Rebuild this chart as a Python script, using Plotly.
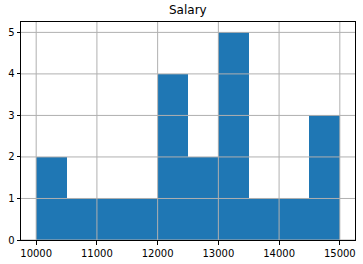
import plotly.graph_objects as go

bin_edges = [10000, 10500, 11000, 11500, 12000, 12500, 13000, 13500, 14000, 14500, 15000]
counts = [2, 1, 1, 1, 4, 2, 5, 1, 1, 3]
x_ticks = [10000, 11000, 12000, 13000, 14000, 15000]
y_ticks = [0, 1, 2, 3, 4, 5]
title = "Salary"

centers = [(a + b) / 2 for a, b in zip(bin_edges[:-1], bin_edges[1:])]
widths = [b - a for a, b in zip(bin_edges[:-1], bin_edges[1:])]

fig = go.Figure(go.Bar(x=centers, y=counts, width=widths,
                       marker=dict(color="#1f77b4", line=dict(width=0))))

shapes = []
for v in x_ticks:
    shapes.append(dict(type="line", xref="x", yref="paper", x0=v, x1=v, y0=0, y1=1,
                       line=dict(color="#b0b0b0", width=1), layer="above"))
for v in y_ticks:
    shapes.append(dict(type="line", xref="paper", yref="y", x0=0, x1=1, y0=v, y1=v,
                       line=dict(color="#b0b0b0", width=1), layer="above"))

fig.update_layout(
    width=363, height=264,
    margin=dict(l=21, r=8, t=22, b=24, autoexpand=False),
    paper_bgcolor="white", plot_bgcolor="white",
    font=dict(family="DejaVu Sans", size=10, color="black"),
    showlegend=False,
    bargap=0,
    shapes=shapes,
    annotations=[dict(text=title, x=0.5, y=1, xref="paper", yref="paper",
                      xanchor="center", yanchor="bottom", yshift=3, showarrow=False,
                      font=dict(size=12, color="black"))],
)
fig.update_xaxes(range=[9750, 15250], tickvals=x_ticks, ticktext=[str(v) for v in x_ticks],
                 automargin=False,
                 showgrid=False, zeroline=False, showline=True, linecolor="black", linewidth=1,
                 mirror=True, ticks="outside", ticklen=3.5, tickcolor="black", tickwidth=1)
fig.update_yaxes(range=[0, 5.25], tickvals=y_ticks, ticktext=[str(v) for v in y_ticks],
                 automargin=False,
                 showgrid=False, zeroline=False, showline=True, linecolor="black", linewidth=1,
                 mirror=True, ticks="outside", ticklen=3.5, tickcolor="black", tickwidth=1)

fig.write_html("out.html")
